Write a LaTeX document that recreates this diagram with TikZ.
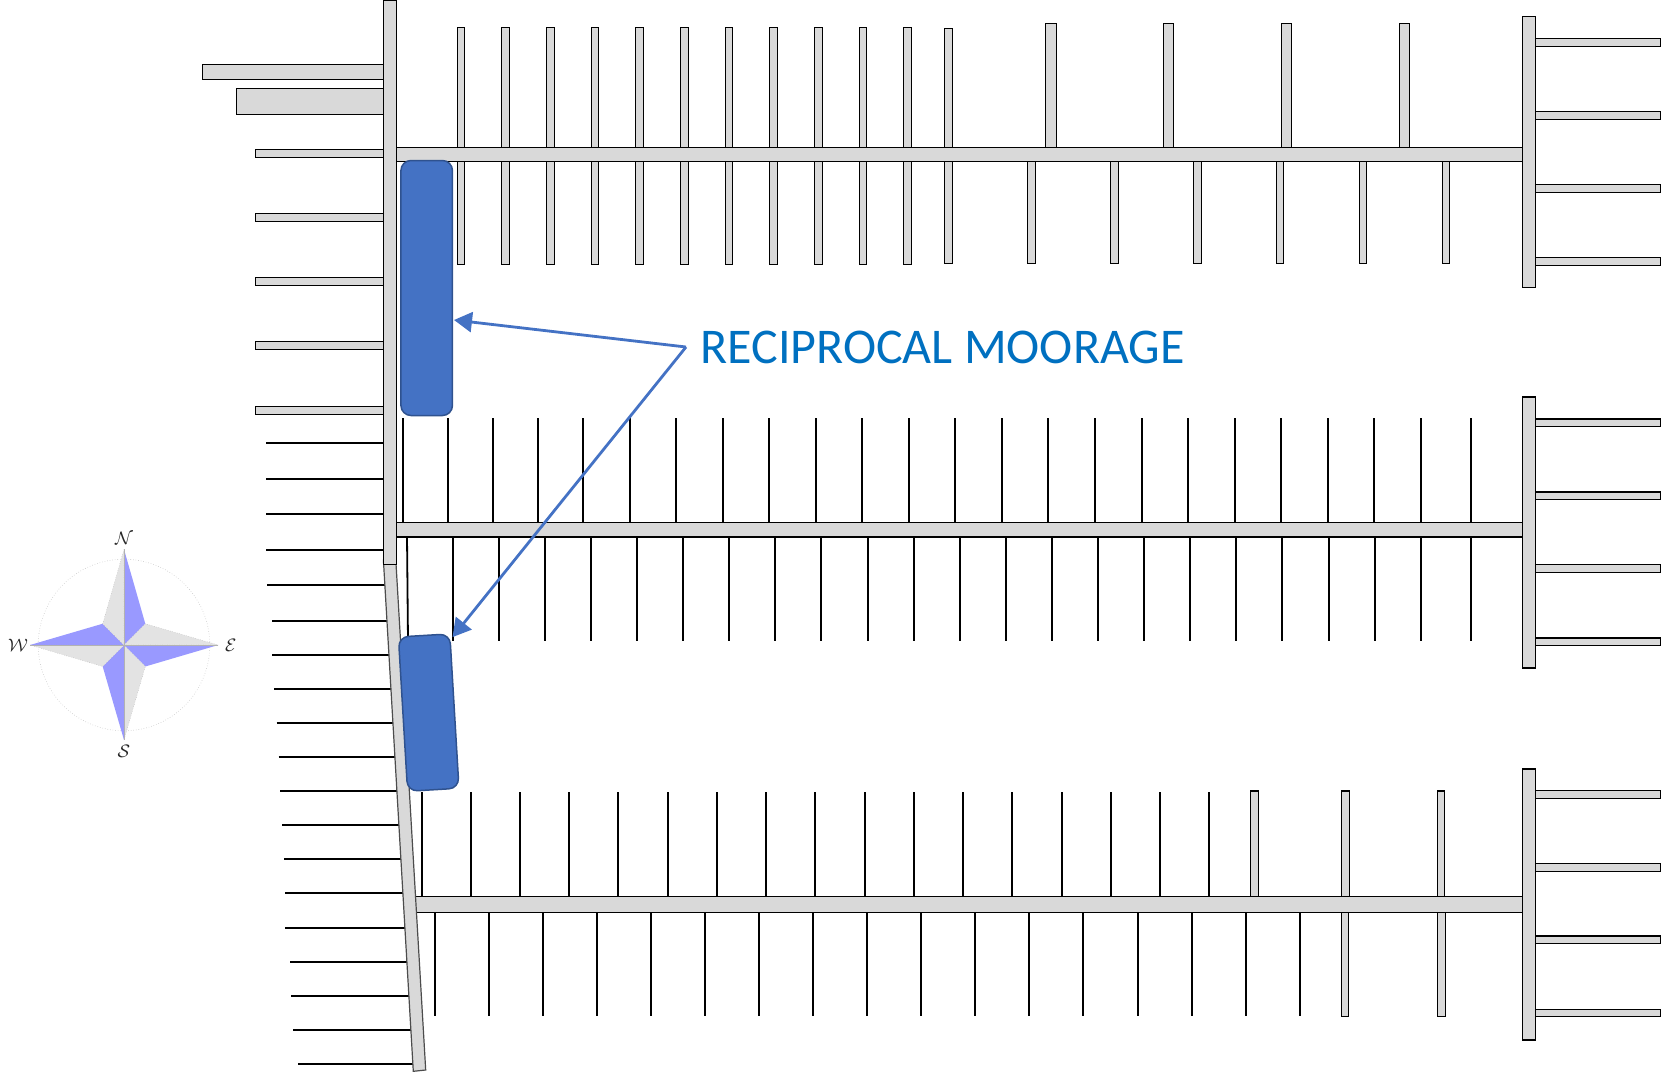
\documentclass[tikz,border=0pt]{standalone}
\usepackage{fontspec}
\setmainfont{Carlito}
\usetikzlibrary{arrows.meta}
\definecolor{dockgrey}{HTML}{D9D9D9}
\definecolor{boatblue}{HTML}{4472C4}
\definecolor{boatedge}{HTML}{2F528F}
\definecolor{labelblue}{HTML}{0070C0}
\definecolor{rosepurple}{HTML}{9999FF}
\definecolor{rosegrey}{HTML}{E3E3E3}
\tikzset{
  dockrect/.style={draw=black,fill=dockgrey,line width=0.62pt},
  slantdock/.style={draw=black!70,fill=dockgrey,line width=0.6pt},
  slip/.style={draw=black,line width=0.9pt},
  shoreline/.style={draw=black,line width=1pt},
  boat/.style={draw=boatedge,fill=boatblue,line width=0.75pt,rounded corners=5pt,inner sep=0pt,minimum width=25.75pt,minimum height=#1},
  callout/.style={draw=boatblue,line width=1.4pt,-{Triangle[length=9pt,width=10pt]}},
  mooragelabel/.style={text=labelblue,font=\fontsize{25}{30}\selectfont,inner xsep=7pt,inner ysep=0pt},
  rosepoint/.style={fill=rosepurple},
  rosefacet/.style={fill=rosegrey,draw=black!35,line width=0.2pt,densely dotted},
  rosering/.style={draw=black!22,line width=0.3pt,densely dotted},
  roseaxis/.style={draw=black!30,line width=0.45pt},
  roselabel/.style={text=black!85,inner sep=0pt,font=\fontsize{9.5}{11}\selectfont},
}
\begin{document}
\begin{tikzpicture}[x=0.5pt,y=-0.5pt]
\useasboundingbox (0,0) rectangle (1661,1072);

% --- top arm: fingers
\foreach \a/\b in {457.2/464.8,501.3/509.2,546.7/554.3,591.2/598.7,635.2/643.2,680.4/688.3,725.5/732.7,769.2/777.5,814.3/822.2,859.4/866.6,903.5/911.4}
  \draw[dockrect] (\a,27.3) rectangle (\b,264.3);
\draw[dockrect] (944.5,28.3) rectangle (952.4,263.3);
\foreach \a/\b in {1045.3/1056.7,1163.3/1173.7,1281.3/1291.7,1399.3/1409.7}
  \draw[dockrect] (\a,23.3) rectangle (\b,148);
\foreach \a/\b in {1027.3/1035.7,1110.3/1118.7,1193.3/1201.7,1276.3/1283.7,1359.3/1366.7,1442.3/1449.7}
  \draw[dockrect] (\a,160) rectangle (\b,263.7);

% --- middle arm: slips
\foreach \x in {403,447.8,493,537.7,582.9,630,675.9,723,768.9,816,861.9,909,954.9,1001.8,1047.9,1095,1141.8,1187.9,1235,1281,1327.9,1373.9,1421,1471}
  \draw[slip] (\x,418) -- (\x,523);
\foreach \x in {452.8,498.7,545,591.3,636.8,682.8,729,775,820.9,868,913.9,959.8,1005.7,1051.8,1097.9,1143.9,1190,1236,1281.8,1328.9,1375,1421,1471}
  \draw[slip] (\x,536) -- (\x,641);
\draw[slip] (407,536) -- (408,641);

% --- bottom arm: slips
\foreach \x in {421.8,470.8,519.7,568.7,617.7,667.8,716.8,765.8,814.8,864.9,913.9,962.9,1011.8,1061.8,1111,1159.6,1208.6}
  \draw[slip] (\x,792) -- (\x,897);
\foreach \x in {434.8,488.7,542.7,597,651,705,758.9,812.9,866.8,920.8,974.8,1028.6,1082.9,1137.9,1191.8,1245.7,1299.6}
  \draw[slip] (\x,911) -- (\x,1016);
\foreach \a/\b in {1250.4/1258.6,1341.4/1349.6,1437.5/1444.6}
  \draw[dockrect] (\a,791) rectangle (\b,897);
\foreach \a/\b in {1341.4/1348.6,1437.5/1445.7}
  \draw[dockrect] (\a,911) rectangle (\b,1016.5);

% --- walkways
\draw[dockrect] (390,147.3) rectangle (1530,161.3);
\draw[dockrect] (390,522.3) rectangle (1530,537);
\draw[dockrect] (405,896.3) rectangle (1530,912.3);

% --- right ends
\foreach \y/\h in {42.3/4,115.3/4,188.3/4,261.3/4,422.8/3.8,495.8/3.8,568.5/3.8,641.8/3.8,794.5/3.8,867.5/3.8,939.8/3.8,1013/3.8}
  \draw[dockrect] (1530,\y-\h) rectangle (1660.3,\y+\h);
\draw[dockrect] (1522.3,16.3) rectangle (1535.7,287.3);
\draw[dockrect] (1522.3,397) rectangle (1535.7,668);
\draw[dockrect] (1522.3,769) rectangle (1535.7,1040);

% --- left side
\draw[dockrect] (202.3,64.5) rectangle (390,79.5);
\draw[dockrect] (236.3,88.5) rectangle (390,114.5);
\foreach \y in {153.5,217.3,281.7,345.5,410.4}
  \draw[dockrect] (255.3,\y-4) rectangle (390,\y+4);
\foreach \x/\y in {266/443,266/479,266/514,266/550,267/585,272/621,272/655,274/689,276.5/723,278.6/757,280/791,282/825,284/859,285/893,285/928,290/962,291/996,293/1030,298/1064}{
  \pgfmathsetmacro\shoreend{\y<564?390:388+0.0578*(\y-564)}
  \draw[shoreline] (\x,\y) -- (\shoreend,\y);
}

\draw[slantdock] (383.4,560) -- (395.8,560) -- (425.7,1070) -- (413.3,1071.3) -- cycle;
\draw[dockrect] (383.3,0.6) rectangle (396.3,564.3);

% --- reciprocal moorage
\node[boat=127.5pt] (boxnorth) at (426.7,288) {};
\node[boat=77.3pt,rotate=3.4] (boxsouth) at (428.7,712.6) {};
\node[mooragelabel,anchor=west] (moorage) at (686,347) {RECIPROCAL MOORAGE};
\draw[callout] (moorage.west) -- ([xshift=0.4pt,yshift=-16pt]boxnorth.east);
\draw[callout] (moorage.west) -- ([xshift=1pt,yshift=-2pt]boxsouth.north east);

% --- compass rose
\draw[rosering] (124,645) circle [radius=85.8];
\fill[rosepoint] (124,645) -- (124,549.3) -- (145.3,623.7) -- cycle;
\fill[rosepoint] (124,645) -- (218.3,645) -- (145.3,666.5) -- cycle;
\fill[rosepoint] (124,645) -- (124,740) -- (102.7,666.5) -- cycle;
\fill[rosepoint] (124,645) -- (30,645) -- (102.7,623.7) -- cycle;
\filldraw[rosefacet] (124,645) -- (124,549.3) -- (102.7,623.7) -- cycle;
\filldraw[rosefacet] (124,645) -- (218.3,645) -- (145.3,623.7) -- cycle;
\filldraw[rosefacet] (124,645) -- (124,740) -- (145.3,666.5) -- cycle;
\filldraw[rosefacet] (124,645) -- (30,645) -- (102.7,666.5) -- cycle;
\draw[roseaxis] (124,549.3) -- (124,740);
\draw[roseaxis] (30,645) -- (218.3,645);
\node[roselabel] (roseN) at (124,538) {$\mathcal{N}$};
\node[roselabel] (roseS) at (124,751) {$\mathcal{S}$};
\node[roselabel] (roseW) at (18,645.7) {$\mathcal{W}$};
\node[roselabel] (roseE) at (230.7,645.3) {$\mathcal{E}$};
\end{tikzpicture}
\end{document}
